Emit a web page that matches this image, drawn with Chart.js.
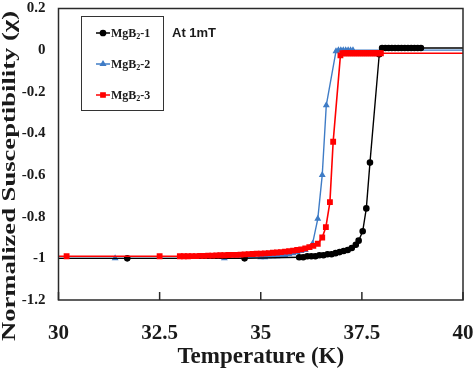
<!DOCTYPE html>
<html>
<head>
<meta charset="utf-8">
<script src="https://cdn.jsdelivr.net/npm/chart.js@4.4.0/dist/chart.umd.min.js"></script>
<style>
  body { margin: 0; background: #fff; }
  canvas { display: block; }
</style>
</head>
<body>
<canvas id="chiChart" width="474" height="374"></canvas>
<script>
// axis ticks
const xTicks = [30, 32.5, 35, 37.5, 40];
const xTickLabels = ['30', '32.5', '35', '37.5', '40'];
const yTickLabels = ['-1.2', '-1', '-0.8', '-0.6', '-0.4', '-0.2', '0', '0.2'];

const seriesNames = ['MgB2-1', 'MgB2-2', 'MgB2-3'];

// MgB2-1 (black circles)
const temp1 = [29.5, 31.7, 34.6, 35.95, 36.05, 36.15, 36.25, 36.35, 36.45, 36.55, 36.65, 36.75, 36.85,
  36.95, 37.05, 37.15, 37.25, 37.35, 37.42, 37.52, 37.61, 37.70, 37.93,
  38.0, 38.08, 38.16, 38.24, 38.32, 38.4, 38.48, 38.56, 38.64, 38.72, 38.8, 38.88, 38.96, 40.5];
const chi1 = [-1.0, -1.0, -1.0, -0.995, -0.995, -0.99, -0.99, -0.99, -0.985, -0.985, -0.98, -0.98, -0.975,
  -0.97, -0.965, -0.96, -0.95, -0.935, -0.915, -0.87, -0.76, -0.54, -0.02,
  0.01, 0.01, 0.01, 0.01, 0.01, 0.01, 0.01, 0.01, 0.01, 0.01, 0.01, 0.01, 0.01, 0.01];

// MgB2-2 (blue triangles)
const temp2 = [29.5, 31.4, 34.1, 35.0, 35.1, 35.2, 35.3, 35.4, 35.5, 35.6, 35.7, 35.8, 35.9, 36.0, 36.1,
  36.2, 36.28, 36.41, 36.52, 36.62, 36.86, 36.92, 36.98, 37.04, 37.1, 37.16, 37.22, 37.28, 40.5];
const chi2 = [-1.0, -1.0, -1.0, -0.995, -0.995, -0.99, -0.99, -0.99, -0.985, -0.985, -0.98, -0.975, -0.97, -0.965, -0.96,
  -0.95, -0.93, -0.81, -0.60, -0.265, -0.005, 0.0, 0.0, 0.0, 0.0, 0.0, 0.0, 0.0, 0.0];

// MgB2-3 (red squares)
const temp3 = [29.5, 30.2, 32.5, 33.0, 33.1, 33.2, 33.3, 33.4, 33.5, 33.6, 33.7, 33.8, 33.9, 34.0, 34.1,
  34.2, 34.3, 34.4, 34.5, 34.6, 34.7, 34.8, 34.9, 35.0, 35.1, 35.2, 35.3, 35.4, 35.5, 35.6, 35.7,
  35.8, 35.9, 36.0, 36.1, 36.2, 36.3, 36.41, 36.52, 36.61, 36.71, 36.79, 36.97,
  37.02, 37.07, 37.12, 37.17, 37.22, 37.27, 37.32, 37.37, 37.42, 37.47, 37.52, 37.57, 37.62, 37.67,
  37.72, 37.77, 37.82, 37.87, 37.92, 37.97, 40.5];
const chi3 = [-0.99, -0.99, -0.99, -0.99, -0.99, -0.99, -0.989, -0.989, -0.988, -0.988, -0.987, -0.987, -0.986, -0.985, -0.985,
  -0.984, -0.983, -0.983, -0.982, -0.981, -0.98, -0.979, -0.978, -0.977, -0.976, -0.975, -0.973, -0.972, -0.97, -0.968, -0.966,
  -0.963, -0.96, -0.957, -0.952, -0.946, -0.94, -0.93, -0.90, -0.85, -0.73, -0.44, -0.025,
  -0.015, -0.015, -0.015, -0.015, -0.015, -0.015, -0.015, -0.015, -0.015, -0.015, -0.015, -0.015, -0.015, -0.015,
  -0.015, -0.015, -0.015, -0.015, -0.015, -0.015, -0.015];

const colors = ['#000000', '#3f7cc6', '#ff0000'];
const styles = ['circle', 'triangle', 'rect'];
const radii = [2.6, 2.6, 3];

const toPts = (xs, ys) => xs.map((x, i) => ({ x: x, y: ys[i] }));
const ink = '#1a1a1a';
const serif = '"Liberation Serif", "Times New Roman", serif';

function noPad(s) {
  s.paddingLeft = 0; s.paddingRight = 0; s.paddingTop = 0; s.paddingBottom = 0;
}

const decor = {
  id: 'decor',
  afterDraw(chart) {
    const ctx = chart.ctx;
    const a = chart.chartArea;
    const xs = chart.scales.x;
    ctx.save();
    // plot frame
    ctx.strokeStyle = '#2a2a2a';
    ctx.lineWidth = 1.5;
    ctx.strokeRect(a.left, a.top, a.right - a.left, a.bottom - a.top);
    // inward x ticks
    xTicks.forEach(v => {
      const px = xs.getPixelForValue(v);
      ctx.beginPath();
      ctx.moveTo(px, a.bottom);
      ctx.lineTo(px, a.bottom - 8);
      ctx.stroke();
    });
    // y title
    ctx.fillStyle = ink;
    ctx.font = 'bold 19px ' + serif;
    ctx.textAlign = 'center';
    ctx.textBaseline = 'middle';
    const yTitle = 'Normalized Susceptibility (\u03C7)';
    const w = ctx.measureText(yTitle).width;
    ctx.save();
    ctx.translate(10, 176);
    ctx.rotate(-Math.PI / 2);
    ctx.scale(330 / w, 1);
    ctx.fillText(yTitle, 0, 0);
    ctx.restore();
    // legend box
    ctx.lineWidth = 1;
    ctx.strokeStyle = '#333';
    ctx.strokeRect(81.5, 16.5, 82, 94);
    const rows = [33, 64, 95];
    seriesNames.forEach((name, i) => {
      const y = rows[i];
      ctx.strokeStyle = colors[i];
      ctx.fillStyle = colors[i];
      ctx.lineWidth = 1.5;
      ctx.beginPath();
      ctx.moveTo(96, y);
      ctx.lineTo(110, y);
      ctx.stroke();
      Chart.helpers.drawPoint(ctx, { pointStyle: styles[i], radius: radii[i], rotation: 0, borderWidth: 1 }, 103, y);
      ctx.fillStyle = ink;
      ctx.textAlign = 'left';
      ctx.textBaseline = 'alphabetic';
      const k = name.indexOf('2');
      const head = name.slice(0, k), tail = name.slice(k + 1);
      let x = 111;
      ctx.font = 'bold 12px ' + serif;
      ctx.fillText(head, x, y + 4);
      x += ctx.measureText(head).width;
      ctx.font = 'bold 8px ' + serif;
      ctx.fillText('2', x, y + 6);
      x += ctx.measureText('2').width;
      ctx.font = 'bold 12px ' + serif;
      ctx.fillText(tail, x, y + 4);
    });
    // annotation
    ctx.font = 'bold 13px "Liberation Sans", Arial, sans-serif';
    ctx.textBaseline = 'middle';
    ctx.fillText('At 1mT', 172, 33);
    ctx.restore();
  }
};

new Chart(document.getElementById('chiChart'), {
  type: 'line',
  data: {
    datasets: [
      { label: seriesNames[0], data: toPts(temp1, chi1), borderColor: colors[0], backgroundColor: colors[0],
        pointStyle: styles[0], pointRadius: radii[0], borderWidth: 1.4, order: 1 },
      { label: seriesNames[1], data: toPts(temp2, chi2), borderColor: colors[1], backgroundColor: colors[1],
        pointStyle: styles[1], pointRadius: radii[1], borderWidth: 1.4, order: 2 },
      { label: seriesNames[2], data: toPts(temp3, chi3), borderColor: colors[2], backgroundColor: colors[2],
        pointStyle: styles[2], pointRadius: radii[2], borderWidth: 1.6, order: 0 }
    ]
  },
  options: {
    responsive: false,
    animation: false,
    layout: { padding: { top: 8.5, right: 11, left: 0, bottom: 0 } },
    plugins: { legend: { display: false }, tooltip: { enabled: false } },
    elements: { point: { borderWidth: 1 }, line: { tension: 0 } },
    scales: {
      x: {
        type: 'linear', min: 30, max: 40,
        afterFit(s) { s.height = 74; noPad(s); },
        afterBuildTicks(s) { s.ticks = xTicks.map(v => ({ value: v })); },
        grid: { display: false, drawTicks: false },
        border: { display: false },
        ticks: {
          padding: 21, color: ink, maxRotation: 0, autoSkip: false,
          font: { family: serif, size: 21, weight: 'bold' },
          callback: (v, i) => xTickLabels[i]
        },
        title: {
          display: true, text: 'Temperature (K)', color: ink,
          font: { family: serif, size: 23, weight: 'bold' },
          padding: { top: 0, bottom: 3 }
        }
      },
      y: {
        min: -1.2, max: 0.2,
        afterFit(s) { s.width = 58.5; noPad(s); },
        afterBuildTicks(s) { s.ticks = yTickLabels.map((t, i) => ({ value: -1.2 + 0.2 * i })); },
        grid: { display: false, drawTicks: false },
        border: { display: false },
        ticks: {
          padding: 13, color: ink,
          font: { family: serif, size: 15, weight: 'bold' },
          callback: (v, i) => yTickLabels[i]
        }
      }
    }
  },
  plugins: [decor]
});
</script>
</body>
</html>
